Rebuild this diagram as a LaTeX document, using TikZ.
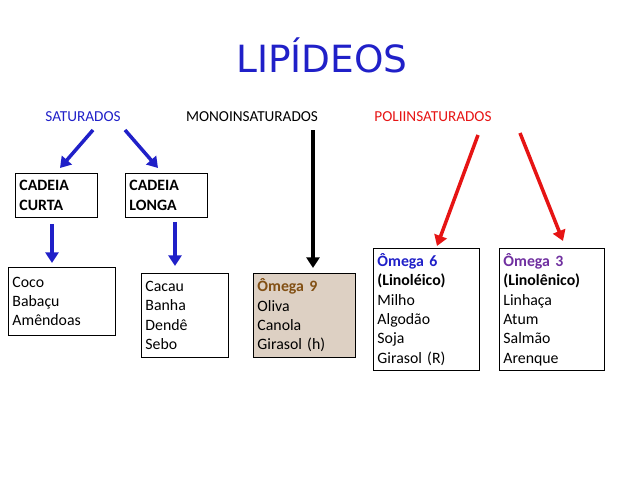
\documentclass[tikz,border=0pt]{standalone}
\usepackage{fontspec}
\setmainfont{Carlito}
\newfontfamily\titulofont{DejaVu Sans}
\definecolor{azul}{RGB}{32,32,200}
\definecolor{vermelho}{RGB}{230,20,20}
\definecolor{roxo}{RGB}{112,48,160}
\definecolor{marrom}{RGB}{130,80,20}
\definecolor{bege}{RGB}{221,208,195}
\tikzset{
  caixa/.style={draw, thick, anchor=north west, align=left, inner sep=2pt,
    font=\fontsize{13.5}{16.5}\selectfont},
  seta/.style={line width=3pt, -{Triangle[length=9pt,width=11pt]}},
  grupo/.style={font=\fontsize{13}{15}\selectfont}
}
\usetikzlibrary{arrows.meta}
\begin{document}
\begin{tikzpicture}[x=0.03cm, y=-0.03cm]
    \useasboundingbox (0,0) rectangle (638,479);
    % ~~~~ Titulo e grupos ~~~~%
    \node[text=azul, font=\titulofont\fontsize{32}{34}\selectfont] (titulo) at (322,55) {LIPÍDEOS};
    \node[grupo, text=azul] (sat) at (83,117) {SATURADOS};
    \node[grupo] (mono) at (252,117) {MONOINSATURADOS};
    \node[grupo, text=vermelho] (poli) at (433,117) {POLIINSATURADOS};

    % ~~~~ Caixas ~~~~%
    \node[caixa, minimum width=82*0.03cm, minimum height=44*0.03cm, text width=74*0.03cm] (curta) at (15,173) {\textbf{CADEIA}\\\textbf{CURTA}};
    \node[caixa, minimum width=82*0.03cm, minimum height=44*0.03cm, text width=74*0.03cm] (longa) at (125,173) {\textbf{CADEIA}\\\textbf{LONGA}};
    \node[caixa, minimum width=107*0.03cm, minimum height=68*0.03cm, text width=99*0.03cm] (coco) at (8,267) {Coco\\Babaçu\\Amêndoas};
    \node[caixa, minimum width=87*0.03cm, minimum height=84*0.03cm, text width=79*0.03cm] (cacau) at (141,273) {Cacau\\Banha\\Dendê\\Sebo};
    \node[caixa, fill=bege, minimum width=102*0.03cm, minimum height=84*0.03cm, text width=94*0.03cm] (omega9) at (253,273) {\textcolor{marrom}{\textbf{Ômega 9}}\\Oliva\\Canola\\Girasol (h)};
    \node[caixa, minimum width=106*0.03cm, minimum height=122*0.03cm, text width=98*0.03cm] (omega6) at (373,248) {\textcolor{azul}{\textbf{Ômega 6}}\\\textbf{(Linoléico)}\\Milho\\Algodão\\Soja\\Girasol (R)};
    \node[caixa, minimum width=105*0.03cm, minimum height=122*0.03cm, text width=97*0.03cm] (omega3) at (499,248) {\textcolor{roxo}{\textbf{Ômega 3}}\\\textbf{(Linolênico)}\\Linhaça\\Atum\\Salmão\\Arenque};

    % ~~~~ Setas ~~~~%
    \coordinate (s1) at (93,130);
    \coordinate (s2) at (125,130);
    \coordinate (m1) at (313,130);
    \coordinate (p1) at (478,135);
    \coordinate (p2) at (520,133);
    \draw[seta, azul] (s1) -- (60,168);
    \draw[seta, azul] (s2) -- (158,168);
    \draw[seta, azul] (curta.south -| 52,0) ++(0,6) -- (52,263);
    \draw[seta, azul] (longa.south -| 175,0) ++(0,4) -- (175,266);
    \draw[seta, black] (m1) -- (313,268);
    \draw[seta, vermelho] (p1) -- (437,246);
    \draw[seta, vermelho] (p2) -- (563,241);
\end{tikzpicture}
\end{document}
